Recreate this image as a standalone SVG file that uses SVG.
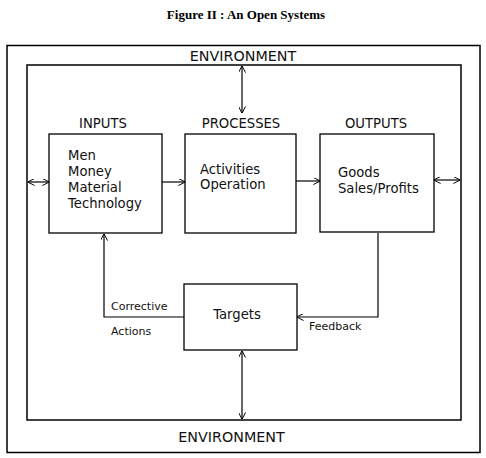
<svg xmlns="http://www.w3.org/2000/svg" width="486" height="458" viewBox="0 0 486 458">
<style>
.box{fill:#fff;stroke:#000;stroke-width:1.3}
.frame{fill:none;stroke:#000;stroke-width:1.5}
.ln{fill:none;stroke:#000;stroke-width:1.2}
.t{font-family:"DejaVu Sans",Verdana,sans-serif;font-size:13.2px;fill:#111}
.s{font-family:"DejaVu Sans",Verdana,sans-serif;font-size:11px;fill:#111}
.env{font-family:"DejaVu Sans",Verdana,sans-serif;font-size:14.3px;fill:#111}
.title{font-family:"Liberation Serif","Times New Roman",serif;font-size:13px;font-weight:bold;fill:#000}
</style>
<defs>
<marker id="ah" viewBox="0 0 10 10" refX="9.5" refY="5" markerWidth="7" markerHeight="7" orient="auto-start-reverse" markerUnits="userSpaceOnUse">
<path d="M0,0 L10,5 L0,10" fill="none" stroke="#000" stroke-width="1.4"/>
</marker>
</defs>
<rect width="486" height="458" fill="#fff"/>
<text class="title" x="246" y="19" text-anchor="middle">Figure II : An Open Systems</text>
<g id="environment">
<rect class="frame" x="7" y="45.5" width="473" height="407"/>
<rect class="frame" x="27" y="65" width="434" height="355"/>
<text class="env" x="243" y="61" text-anchor="middle">ENVIRONMENT</text>
<text class="env" x="231.5" y="442" text-anchor="middle">ENVIRONMENT</text>
</g>
<g id="connectors">
<line class="ln" x1="242" y1="66" x2="242" y2="113" marker-start="url(#ah)" marker-end="url(#ah)"/>
<line class="ln" x1="28" y1="182" x2="49" y2="182" marker-start="url(#ah)" marker-end="url(#ah)"/>
<line class="ln" x1="162" y1="182" x2="185" y2="182" stroke-width="1.6" marker-end="url(#ah)"/>
<line class="ln" x1="296" y1="181" x2="320" y2="181" marker-end="url(#ah)"/>
<line class="ln" x1="434" y1="180" x2="460" y2="180" marker-start="url(#ah)" marker-end="url(#ah)"/>
<polyline class="ln" points="184,317 104,317 104,234" marker-end="url(#ah)"/>
<polyline class="ln" points="378,233 378,317 297,317" marker-end="url(#ah)"/>
<line class="ln" x1="242" y1="351" x2="242" y2="419" marker-start="url(#ah)" marker-end="url(#ah)"/>
<text class="s" x="111" y="310">Corrective</text>
<text class="s" x="111" y="335">Actions</text>
<text class="s" x="309" y="330">Feedback</text>
</g>
<g id="inputs">
<text class="t" x="103" y="128" text-anchor="middle">INPUTS</text>
<rect class="box" x="49" y="134" width="113" height="99"/>
<text class="t" x="68" y="160">Men</text>
<text class="t" x="68" y="176">Money</text>
<text class="t" x="68" y="192">Material</text>
<text class="t" x="68" y="208">Technology</text>
</g>
<g id="processes">
<text class="t" x="241" y="128" text-anchor="middle">PROCESSES</text>
<rect class="box" x="185" y="134" width="111" height="99"/>
<text class="t" x="200" y="174">Activities</text>
<text class="t" x="200" y="189">Operation</text>
</g>
<g id="outputs">
<text class="t" x="376" y="128" text-anchor="middle">OUTPUTS</text>
<rect class="box" x="320" y="134" width="114" height="98"/>
<text class="t" x="338" y="177">Goods</text>
<text class="t" x="338" y="193">Sales/Profits</text>
</g>
<g id="targets">
<rect class="box" x="184" y="284" width="113" height="66"/>
<text class="t" x="237" y="319" text-anchor="middle">Targets</text>
</g>
</svg>
